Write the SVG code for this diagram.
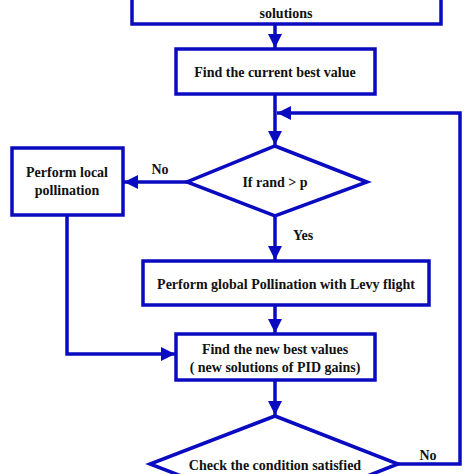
<svg xmlns="http://www.w3.org/2000/svg" width="474" height="474" viewBox="0 0 474 474">
<style>
.n{fill:#fff;stroke:#0a0ac0;stroke-width:3.5}
.c{fill:none;stroke:#0a0ac0;stroke-width:3.5}
text{font-family:"Liberation Serif","Times New Roman",serif;font-weight:bold;font-size:14px;fill:#111;text-anchor:middle}
</style>
<defs>
<marker id="a" viewBox="0 0 10 10" refX="10" refY="5" markerWidth="4" markerHeight="4" markerUnits="strokeWidth" orient="auto">
<path d="M0,0 L10,5 L0,10 Z" fill="#0a0ac0"/>
</marker>
</defs>
<rect width="474" height="474" fill="#fff"/>
<g id="connectors">
<line class="c" x1="275" y1="24" x2="275" y2="48" marker-end="url(#a)"/>
<line class="c" x1="275" y1="94" x2="275" y2="145" marker-end="url(#a)"/>
<polyline class="c" points="398,464 460,464 460,113 277,113" marker-end="url(#a)"/>
<line class="c" x1="187" y1="182" x2="124" y2="182" marker-end="url(#a)"/>
<line class="c" x1="275" y1="216" x2="275" y2="260" marker-end="url(#a)"/>
<line class="c" x1="275" y1="305" x2="275" y2="333" marker-end="url(#a)"/>
<polyline class="c" points="67,215 67,354 175,354" marker-end="url(#a)"/>
<line class="c" x1="275" y1="380" x2="275" y2="415" marker-end="url(#a)"/>
<text x="160" y="174">No</text>
<text x="303" y="240">Yes</text>
<text x="428" y="460">No</text>
</g>
<g id="init">
<rect class="n" x="132" y="-20" width="309" height="44"/>
<text x="286" y="18">solutions</text>
</g>
<g id="current">
<rect class="n" x="176" y="49" width="199" height="45"/>
<text x="275" y="77">Find the current best value</text>
</g>
<g id="rand">
<polygon class="n" points="275,146 367,182 275,216 187,182"/>
<text x="275" y="187">If rand &gt; p</text>
</g>
<g id="local">
<rect class="n" x="12" y="148" width="111" height="67"/>
<text x="67" y="177">Perform local</text>
<text x="67" y="195">pollination</text>
</g>
<g id="global">
<rect class="n" x="143" y="261" width="286" height="44"/>
<text x="286" y="289">Perform global Pollination with Levy flight</text>
</g>
<g id="newbest">
<rect class="n" x="176" y="334" width="199" height="46"/>
<text x="275" y="354">Find the new best values</text>
<text x="275" y="372">( new solutions of PID gains)</text>
</g>
<g id="check">
<polygon class="n" points="275,416 398,464 275,512 150,464"/>
<text x="275" y="470">Check the condition satisfied</text>
</g>
</svg>
